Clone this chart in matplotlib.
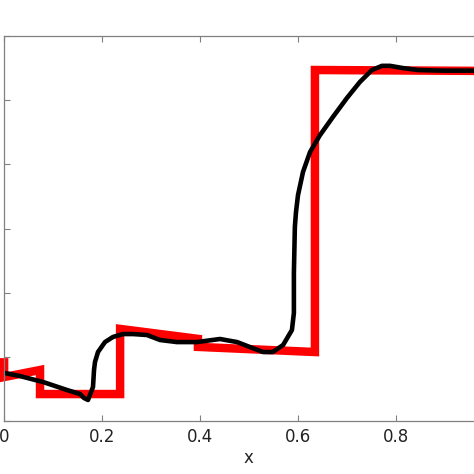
import matplotlib
matplotlib.use("Agg")
import matplotlib.pyplot as plt

# exact solution (red, piecewise)
exact_x = [0.0, 0.0, 0.0734, 0.0734, 0.237, 0.237, 0.396, 0.396, 0.635, 0.635, 1.0]
exact_y = [0.196, 0.137, 0.159, 0.084, 0.084, 0.287, 0.256, 0.231, 0.215, 1.094, 1.091]

# numerical solution (black)
num_x = [0.000, 0.0325, 0.0795, 0.1285, 0.155, 0.1632, 0.1714, 0.1816, 0.1837, 0.1857,
         0.1918, 0.2061, 0.2225, 0.2429, 0.2633, 0.292, 0.3185, 0.353, 0.394, 0.441,
         0.476, 0.502, 0.529, 0.549, 0.570, 0.588, 0.592, 0.592, 0.594, 0.5963,
         0.6004, 0.6106, 0.6249, 0.6453, 0.6719, 0.7005, 0.727, 0.7516, 0.772, 0.7884,
         0.8149, 0.8456, 0.8966, 0.958, 1.0]
num_y = [0.150, 0.140, 0.1216, 0.0966, 0.0842, 0.0717, 0.0655, 0.106, 0.159, 0.184,
         0.215, 0.246, 0.262, 0.271, 0.271, 0.268, 0.2525, 0.246, 0.246, 0.2556,
         0.246, 0.2306, 0.215, 0.215, 0.237, 0.2836, 0.3366, 0.461, 0.605, 0.651,
         0.704, 0.776, 0.838, 0.891, 0.948, 1.007, 1.057, 1.094, 1.107, 1.107,
         1.100, 1.094, 1.092, 1.092, 1.092]

x_ticks = [0.0, 0.2, 0.4, 0.6, 0.8, 1.0]
y_ticks = [0.0, 0.2, 0.4, 0.6, 0.8, 1.0, 1.2]

fig = plt.figure(figsize=(4.74, 4.74), dpi=100)
# axes run past the right edge of the picture (cropped figure)
ax = fig.add_axes([4.1 / 474, 53 / 474, 489.5 / 474, 385 / 474])

ax.plot(exact_x, exact_y, color="#ff0000", linewidth=6.1,
        solid_joinstyle="miter", solid_capstyle="butt", clip_on=False)
ax.plot(num_x, num_y, color="black", linewidth=3.3,
        solid_joinstyle="round", solid_capstyle="round")

ax.set_xlim(0, 1)
ax.set_ylim(0, 1.2)
ax.set_xticks(x_ticks)
ax.set_xticklabels(["0", "0.2", "0.4", "0.6", "0.8", "1"])
ax.set_yticks(y_ticks)
ax.set_xlabel("x", fontsize=12, color="#222222", labelpad=2)

for s in ax.spines.values():
    s.set_color("#808080")
    s.set_linewidth(0.9)
ax.tick_params(direction="in", length=4, width=0.8, color="#808080",
               top=True, right=True, labelsize=12, labelcolor="#222222", pad=5)

fig.savefig("out.png", dpi=100)
